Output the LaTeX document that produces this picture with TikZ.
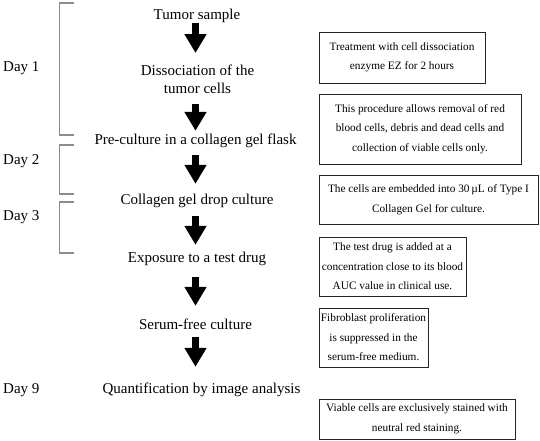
\documentclass[tikz,border=0pt]{standalone}
\usepackage{fontspec}
\setmainfont{Liberation Serif}
\usetikzlibrary{arrows.meta}
\begin{document}
\begin{tikzpicture}[x=1pt,y=-1pt,
  stepnode/.style={inner sep=0pt, font=\fontsize{15}{18}\selectfont, anchor=base, text height=10.2pt, text depth=3.3pt},
  steptwo/.style={inner sep=0pt, font=\fontsize{15}{18}\selectfont, align=center, anchor=north},
  daynode/.style={inner sep=0pt, font=\fontsize{15}{18}\selectfont, anchor=base west},
  notebox/.style={draw=black!85, line width=0.9pt, inner sep=0pt, font=\fontsize{11.3}{19.5}\selectfont, align=center},
  bigarrow/.style={line width=6.5pt, -{Triangle[width=21pt,length=19pt]}},
  bracketline/.style={draw=black!45, line width=1.6pt}]
\useasboundingbox (0,0) rectangle (540,440);

% axis of the arrows
\coordinate (axis) at (195.5,0);

% steps
\node[stepnode] (t1) at (197,19) {Tumor sample};
\node[steptwo]  (t2) at (197.5,65) {Dissociation of the\\tumor cells};
\node[stepnode] (t3) at (195.5,144) {Pre-culture in a collagen gel flask};
\node[stepnode] (t4) at (197,204) {Collagen gel drop culture};
\node[stepnode] (t5) at (197,262) {Exposure to a test drug};
\node[stepnode] (t6) at (195.5,329) {Serum-free culture};
\node[stepnode] (t7) at (201.5,393) {Quantification by image analysis};

% arrows
\draw[bigarrow, shorten >=12pt] (t1.south -| axis) -- (t2.north -| axis);
\draw[bigarrow, shorten <=9.8pt, shorten >=2.8pt] (t2.south -| axis) -- (t3.north -| axis);
\draw[bigarrow, shorten <=7.7pt, shorten >=9.8pt] (t3.south -| axis) -- (t4.north -| axis);
\draw[bigarrow, shorten <=8.7pt, shorten >=6.8pt] (t4.south -| axis) -- (t5.north -| axis);
\draw[bigarrow, shorten <=11.7pt, shorten >=12.8pt] (t5.south -| axis) -- (t6.north -| axis);
\draw[bigarrow, shorten <=4.7pt, shorten >=15.8pt] (t6.south -| axis) -- (t7.north -| axis);

% day labels
\node[daynode] (d1) at (3,71) {Day 1};
\node[daynode] (d2) at (3,164) {Day 2};
\node[daynode] (d3) at (3,220) {Day 3};
\node[daynode] (d9) at (3,393) {Day 9};

% brackets
\draw[bracketline] (74,3) -- (59.5,3) -- (59.5,135) -- (74,135);
\draw[bracketline] (74,145) -- (59.5,145) -- (59.5,194) -- (74,194);
\draw[bracketline] (74,202) -- (59.5,202) -- (59.5,253) -- (74,253);

% note boxes
\node[notebox, minimum width=166pt, minimum height=51pt] (b1) at (402,57.5)
  {Treatment with cell dissociation\\enzyme EZ for 2 hours};
\node[notebox, minimum width=202pt, minimum height=70pt] (b2) at (420,129)
  {This procedure allows removal of red\\blood cells, debris and dead cells and\\collection of viable cells only.};
\node[notebox, minimum width=219pt, minimum height=49pt] (b3) at (428.5,199.5)
  {The cells are embedded into 30\,µL of Type I\\Collagen Gel for culture.};
\node[notebox, minimum width=147pt, minimum height=59pt] (b4) at (392.5,266.5)
  {The test drug is added at a\\concentration close to its blood\\AUC value in clinical use.};
\node[notebox, minimum width=109pt, minimum height=59pt] (b5) at (373.5,337.5)
  {Fibroblast proliferation\\is suppressed in the\\serum-free medium.};
\node[notebox, minimum width=196pt, minimum height=40pt] (b6) at (417,419)
  {Viable cells are exclusively stained with\\neutral red staining.};
\end{tikzpicture}
\end{document}
